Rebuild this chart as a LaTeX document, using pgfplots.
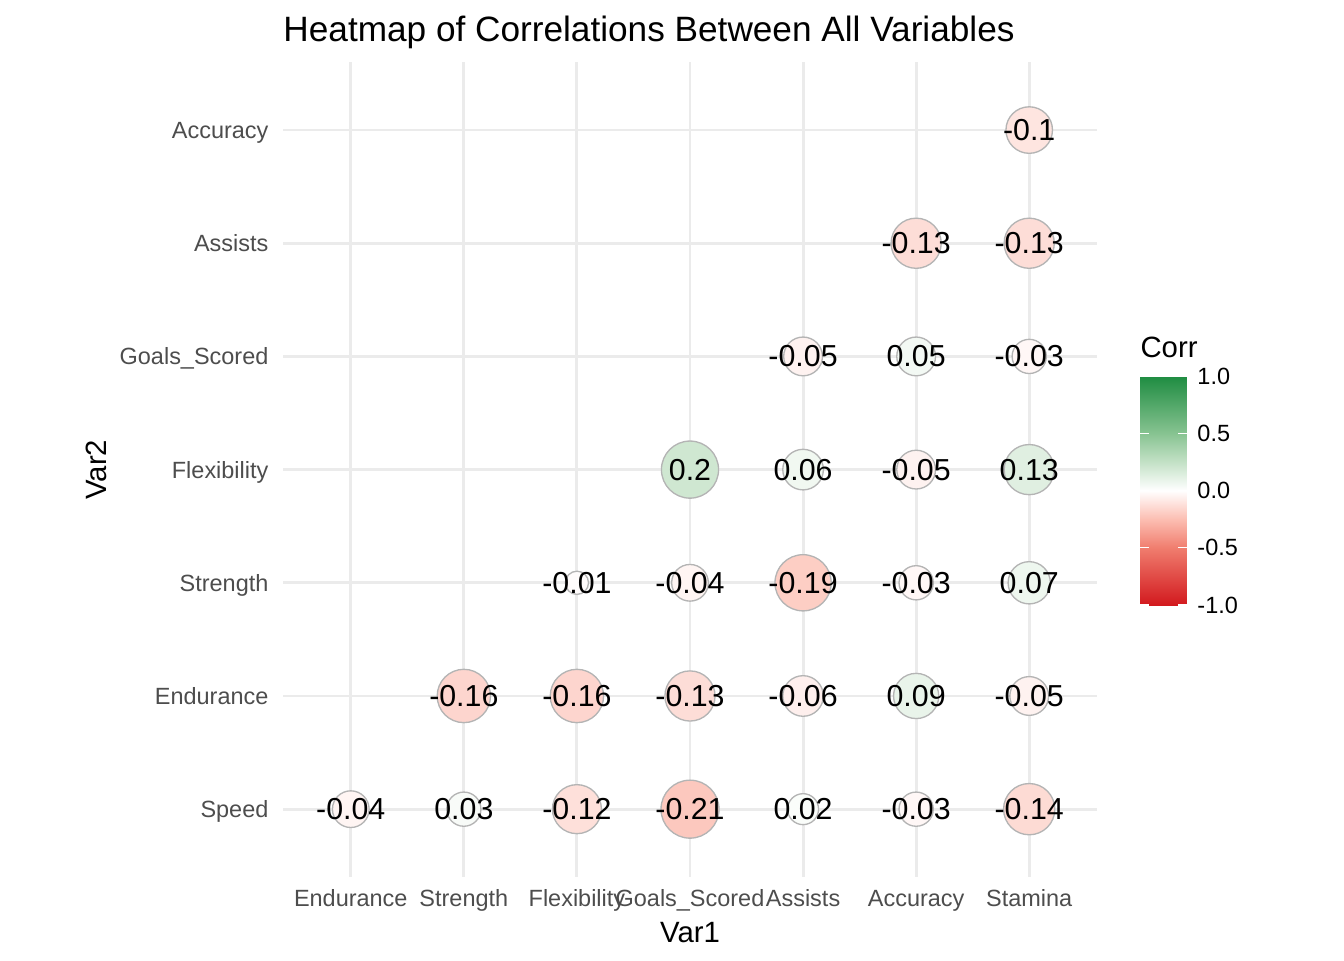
\documentclass[border=0pt]{standalone}
\usepackage{pgfplots}
\pgfplotsset{compat=1.18}
\usepackage{pgfplotstable}
\usepackage{fontspec}
\setmainfont{Liberation Sans}
\definecolor{gridc}{RGB}{235,235,235}
\definecolor{circgray}{RGB}{180,180,180}
\definecolor{tickc}{RGB}{77,77,77}
\pgfplotstableread{
x y v
0 0 -0.04
1 0 0.03
2 0 -0.12
3 0 -0.21
4 0 0.02
5 0 -0.03
6 0 -0.14
1 1 -0.16
2 1 -0.16
3 1 -0.13
4 1 -0.06
5 1 0.09
6 1 -0.05
2 2 -0.01
3 2 -0.04
4 2 -0.19
5 2 -0.03
6 2 0.07
3 3 0.2
4 3 0.06
5 3 -0.05
6 3 0.13
4 4 -0.05
5 4 0.05
6 4 -0.03
5 5 -0.13
6 5 -0.13
6 6 -0.1
}\corrdata
\begin{document}
\begin{tikzpicture}
\useasboundingbox (0,0) rectangle (504pt,360pt);
\begin{axis}[
  at={(106.1pt,31.1pt)}, anchor=south west,
  scale only axis, width=305.3pt, height=305.6pt,
  xmin=-0.6, xmax=6.6, ymin=-0.6, ymax=6.6,
  xtick={0,...,6}, ytick={0,...,6},
  xticklabels={Endurance,Strength,Flexibility,Goals\_Scored,Assists,Accuracy,Stamina},
  yticklabels={Speed,Endurance,Strength,Flexibility,Goals\_Scored,Assists,Accuracy},
  axis line style={draw=none},
  major tick length=0pt, tick style={draw=none},
  grid=major, major grid style={draw=gridc, line width=1.07pt},
  ticklabel style={font=\fontsize{8.8}{10}\selectfont, text=tickc, inner sep=0pt},
  xticklabel style={anchor=base, yshift=-10.9pt},
  yticklabel style={anchor=base east, xshift=-5.25pt, yshift=-3.15pt},
  every axis title shift=0pt,
  title={Heatmap of Correlations Between All Variables},
  title style={at={(axis description cs:0,1)}, anchor=base west, yshift=7.9pt, inner sep=0pt, font=\fontsize{13.2}{15}\selectfont},
  xlabel={Var1},
  xlabel style={at={(axis description cs:0.5,0)}, anchor=base, yshift=-24.4pt, inner sep=0pt, font=\fontsize{11}{13}\selectfont},
  ylabel={Var2},
  ylabel style={at={(axis description cs:-0.2162,0.5)}, anchor=base, inner sep=0pt, font=\fontsize{11}{13}\selectfont},
  colormap={corr}{rgb255(0)=(210,25,30) rgb255(2)=(240,125,110) rgb255(3)=(252,190,178) rgb255(4)=(255,255,255) rgb255(5)=(195,225,198) rgb255(6)=(135,195,145) rgb255(8)=(30,140,65)},
  point meta min=-1, point meta max=1,
  colorbar shift/.style={},
  colorbar/width=17.6pt,
  colorbar,
  colorbar style={
    at={(parent axis.south west)}, anchor=south west, xshift=321.4pt, yshift=102pt,
    scale only axis, width=17.6pt, height=85.9pt,
    axis line style={draw=none}, grid=none,
    ytick={-1,-0.5,0,0.5,1}, yticklabels={-1.0,-0.5,0.0,0.5,1.0},
    ytick pos=both, yticklabel pos=right,
    tick align=inside, major tick length=3.5pt,
    ytick style={draw=white, line width=0.5pt},
    every tick label/.style={},
    every y tick label/.style={anchor=west, xshift=3.75pt, inner sep=0pt, font=\fontsize{8.8}{10}\selectfont, text=black},
    title={Corr},
    every axis title shift=0pt,
    every axis title/.style={at={(axis description cs:0,1)}, anchor=base west, yshift=6.9pt, inner sep=0pt, font=\fontsize{11}{13}\selectfont},
    axis on top,
  },
]
\addplot[scatter, only marks, mark=*, point meta=\thisrow{v},
  scatter/use mapped color={draw=circgray, fill=mapped color},
  mark options={line width=0.5pt},
  visualization depends on={1.0875*(4+6*sqrt(max(abs(\thisrow{v})-0.01,0)/0.2)) \as \rad},
  scatter/@pre marker code/.append style={/tikz/mark size=\rad}]
  table[x=x, y=y] {\corrdata};
\addplot[only marks, mark=none, point meta=explicit symbolic,
  nodes near coords, nodes near coords align={center},
  every node near coord/.append style={inner sep=0pt, font=\fontsize{11.38}{13}\selectfont, text=black}]
  table[x=x, y=y, meta=v] {\corrdata};
\end{axis}
\end{tikzpicture}
\end{document}
